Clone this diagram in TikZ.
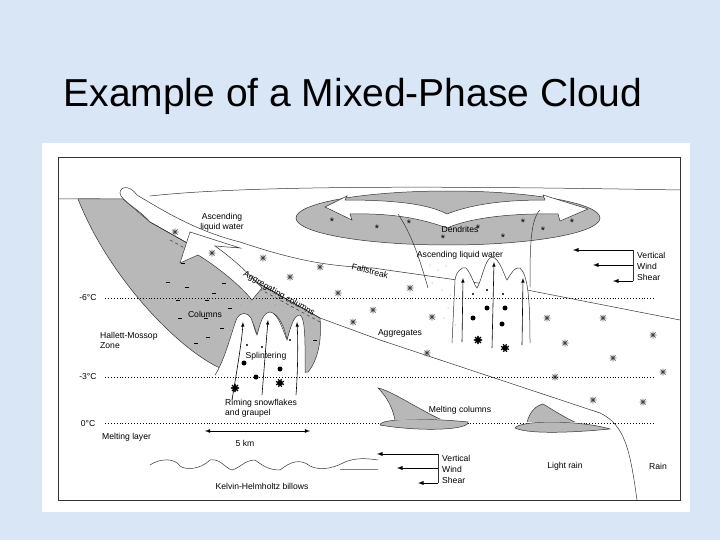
\documentclass[tikz,border=0pt]{standalone}
\usepackage{fontspec}
\setmainfont{Liberation Sans}
\definecolor{bgblue}{RGB}{216,230,246}
\begin{document}
\begin{tikzpicture}[x=1pt,y=-1pt,
  lbl/.style={font=\fontsize{8.6}{10}\selectfont,inner sep=0pt,align=left},
  dotl/.style={dotted,line width=0.9pt},
  thin/.style={line width=0.5pt,black!80},
  grey/.style={fill=black!28,draw=black!80,line width=0.5pt},
  upar/.style={-latex,line width=0.6pt},
  shear/.style={-latex,line width=0.9pt},
  agg/.pic={\draw[black!60,line width=0.9pt] (-3.5,0)--(3.5,0) (0,-3.5)--(0,3.5) (-2.5,-2.5)--(2.5,2.5) (-2.5,2.5)--(2.5,-2.5);\fill[black!80] (0,0) circle (1.2);},
  minus/.pic={\draw[line width=0.7pt] (-2,0)--(2,0);}]
\useasboundingbox (0,0) rectangle (720,540);
\fill[bgblue] (0,0) rectangle (720,540);
\node[font=\fontsize{39}{42}\selectfont,anchor=west] (title) at (60,96) {Example of a Mixed-Phase Cloud};
\fill[white] (42,143) rectangle (690,512);
\draw[line width=0.8pt,black!80] (58,157) rectangle (680,500);
% top cloud line
\draw[thin] (58,199)--(100,199) (150,196) .. controls (250,185) and (450,186) .. (680,190);
% grey region
\path[grey] (78,199) -- (123,199) -- (150,222) -- (320,318) .. controls (322,340) and (318,360) .. (308,372)
  -- (305,372) .. controls (300,340) and (300,320) .. (300,317) .. controls (295,315) and (290,330) .. (287,340)
  .. controls (283,320) and (275,312) .. (270,313) .. controls (263,315) and (260,330) .. (257,335)
  .. controls (253,320) and (248,314) .. (243,315) .. controls (235,320) and (232,350) .. (220,368)
  .. controls (180,350) and (110,280) .. (78,199);
% white tube
\draw[thin,fill=white] (150,222) .. controls (140,210) and (120,200) .. (120,193) .. controls (120,186) and (130,185) .. (137,195) .. controls (170,215) and (200,232) .. (240,242);
\draw[thin] (240,242) .. controls (300,262) and (330,266) .. (373,268) -- (527,290) -- (680,320);
\draw[thin] (150,222) -- (320,318) -- (380,340) -- (600,413) .. controls (625,425) and (630,450) .. (637,500);
\draw[dashed,thin] (170,240) -- (320,322);
% ascending hollow arrow
\draw[thin,fill=white] (180,263) -- (190,232) -- (240,248) -- (215,246) .. controls (235,260) and (250,275) .. (262,288)
 -- (252,300) .. controls (240,285) and (215,265) .. (198,255) -- cycle;
% left columns white
\draw[thin,fill=white] (215,375) .. controls (225,360) and (232,330) .. (237,318) .. controls (240,312) and (248,312) .. (251,318) .. controls (254,325) and (255,332) .. (257,335)
 .. controls (260,325) and (262,313) .. (270,312) .. controls (278,313) and (283,330) .. (287,340)
 .. controls (290,330) and (293,315) .. (300,315) .. controls (306,318) and (305,350) .. (305,373);
\foreach \p in {(230,330),(234,322),(240,305),(250,302),(262,300),(275,305),(290,307),(300,302),(310,310),(228,340),(296,330)} \fill[black!50] \p circle (0.5);
\draw[upar] (232,400) .. controls (237,370) and (242,340) .. (243,322);
\draw[upar] (262,395) -- (268,320);
\draw[upar] (296,395) .. controls (298,370) and (298,340) .. (297,322);
\foreach \p in {(247,345),(262,347),(290,340)} \fill \p circle (1.2);
\foreach \p in {(244,363),(280,369),(256,377)} \fill \p circle (2.5);
\foreach \p/\a in {(235,388)/0,(280,383)/20} {\fill \p circle (3); \foreach \t in {0,45,...,315} \fill \p ++(\t+\a:3.5) circle (0.9);}
\foreach \p in {(183,263),(168,282),(187,287),(178,300),(207,300),(206,318),(180,318),(230,308),(222,328),(208,337),(196,343),(224,283),(214,293),(315,340)} \pic at \p {minus};
% dendrite ellipse
\draw[grey] (448,218) ellipse (152 and 27);
\draw[thin,fill=white] (325,207) -- (347,196) -- (345,200) .. controls (400,200) and (430,205) .. (447,214) .. controls (470,205) and (500,200) .. (545,200) -- (543,195) -- (588,209) -- (560,221) -- (558,214)
  .. controls (510,213) and (470,218) .. (447,228) .. controls (420,218) and (390,213) .. (350,214) -- (352,220) -- cycle;
\foreach \p in {(332,222),(377,229),(409,224),(443,239),(478,229),(503,238),(523,223),(543,231),(572,223)} \node[font=\fontsize{11}{11}\selectfont] at \p {*};
\draw[thin] (398,214) .. controls (412,235) and (420,260) .. (428,288);
\draw[thin] (540,210) .. controls (530,220) and (530,250) .. (530,287);
% right columns white
\draw[thin,fill=white] (452,343) -- (455,280) .. controls (456,272) and (462,266) .. (466,268) .. controls (472,275) and (474,285) .. (477,288)
 .. controls (482,280) and (485,258) .. (492,257) .. controls (500,258) and (505,278) .. (507,280)
 .. controls (510,275) and (515,266) .. (520,268) .. controls (528,275) and (530,300) .. (530,343);
\foreach \p in {(430,265),(438,270),(446,266),(432,283),(442,290),(450,295),(436,300),(448,308),(455,325),(444,318)} \fill[black!50] \p circle (0.5);
\draw[upar] (462,342) -- (463,278);
\draw[upar] (492,348) -- (494,262);
\draw[upar] (522,345) -- (523,278);
\foreach \p in {(473,294),(487,290),(503,294)} \fill \p circle (1.2);
\foreach \p in {(473,318),(487,308),(505,308),(502,324)} \fill \p circle (2.5);
\foreach \p/\a in {(478,340)/0,(505,348)/20} {\fill \p circle (3); \foreach \t in {0,45,...,315} \fill \p ++(\t+\a:3.5) circle (0.9);}
% aggregates
\foreach \p in {(175,232),(212,253),(263,258),(320,267),(290,277),(338,293),(353,322),(373,310),(410,288),(432,317),(427,353),(547,318),(603,318),(565,343),(613,358),(653,335),(663,372),(555,377),(593,400),(643,402)} \pic at \p {agg};
% dotted levels
\draw[dotl] (105,298) -- (655,298);
\draw[dotl] (105,377) -- (655,377);
\draw[dotl] (105,423) -- (655,423);
% melting columns
\draw[grey] (380,425) .. controls (380,418) and (430,418) .. (468,422) .. controls (470,430) and (420,432) .. (380,425);
\draw[grey] (395,420) .. controls (392,405) and (385,395) .. (378,388) .. controls (390,390) and (420,410) .. (440,419);
\draw[grey] (515,428) .. controls (520,420) and (580,420) .. (610,429) .. controls (580,432) and (530,435) .. (515,428);
\draw[grey] (527,422) .. controls (530,412) and (535,406) .. (543,404) .. controls (550,408) and (565,418) .. (575,422);
% wind shear
\draw[thin,line width=0.8pt] (633,250) -- (633,281);
\draw[shear] (633,250) -- (573,250);
\draw[shear] (633,265) -- (593,265);
\draw[shear] (633,281) -- (613,281);
\draw[thin,line width=0.8pt] (438,454) -- (438,483);
\draw[shear] (438,454) -- (377,454);
\draw[shear] (438,468) -- (397,468);
\draw[shear] (438,483) -- (418,483);
\draw[latex-latex,line width=0.8pt] (205,431) -- (310,431);
% KH billows
\draw[thin] (150,465) .. controls (160,458) and (175,458) .. (180,466) .. controls (185,470) and (200,470) .. (210,460)
 .. controls (220,458) and (225,468) .. (232,470) .. controls (240,468) and (245,460) .. (255,460) .. controls (262,465) and (268,470) .. (280,470)
 .. controls (290,462) and (300,458) .. (310,466) .. controls (318,470) and (330,470) .. (345,462) .. controls (355,458) and (365,458) .. (378,460);
\draw[thin,black!50] (340,469) -- (378,469);
% labels
\node[lbl,align=center] (l1) at (222,222) {Ascending\\liquid water};
\node[lbl] (l2) at (205,314) {Columns};
\node[lbl,anchor=west] (l3) at (100,340) {Hallett-Mossop\\Zone};
\node[lbl] (l4) at (266,356) {Splintering};
\node[lbl,anchor=west] (l5) at (225,408) {Riming snowflakes\\and graupel};
\node[lbl,anchor=west] (l6) at (102,437) {Melting layer};
\node[lbl] (l7) at (245,443) {5 km};
\node[lbl] (l8) at (262,486) {Kelvin-Helmholtz billows};
\node[lbl,rotate=-14] (l9) at (370,271) {Fallstreak};
\node[lbl,rotate=-30] (l10) at (279,294) {Aggregating columns};
\node[lbl] (l11) at (400,333) {Aggregates};
\node[lbl] (l12) at (460,229) {Dendrites};
\node[lbl] (l13) at (460,255) {Ascending liquid water};
\node[lbl,anchor=west] (l14) at (637,266) {Vertical\\[1pt]Wind\\[1pt]Shear};
\node[lbl,anchor=west] (l15) at (442,469) {Vertical\\[1pt]Wind\\[1pt]Shear};
\node[lbl] (l16) at (460,410) {Melting columns};
\node[lbl] (l17) at (565,466) {Light rain};
\node[lbl] (l18) at (658,466) {Rain};
\node[lbl] at (88,298) {-6\textdegree C};
\node[lbl] at (88,377) {-3\textdegree C};
\node[lbl] at (88,424) {0\textdegree C};
\end{tikzpicture}
\end{document}
